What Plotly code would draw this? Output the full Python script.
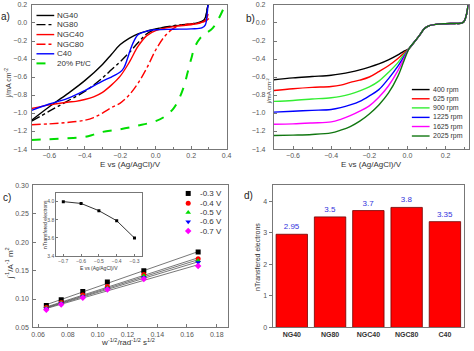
import numpy as np
import plotly.graph_objects as go

W, H = 474, 351

# ---------------- Panel a data ----------------
a_names = ["NG40", "NG80", "NGC40", "NGC80", "C40", "20% Pt/C"]
a_ng40_x = [-0.7, -0.6, -0.5, -0.4, -0.3, -0.25, -0.2, -0.15, -0.1, -0.05, 0.0, 0.1, 0.2, 0.25, 0.27, 0.28, 0.29, 0.295]
a_ng40_y = [-1.08, -0.93, -0.79, -0.64, -0.46, -0.35, -0.24, -0.17, -0.12, -0.09, -0.065, -0.035, -0.01, 0.01, 0.03, 0.06, 0.15, 0.2]
a_ng80_x = [-0.7, -0.6, -0.5, -0.4, -0.3, -0.25, -0.2, -0.15, -0.1, -0.05, 0.0, 0.1, 0.2, 0.27, 0.28, 0.29, 0.295]
a_ng80_y = [-1.09, -0.98, -0.87, -0.76, -0.61, -0.52, -0.43, -0.33, -0.22, -0.12, -0.07, -0.03, -0.01, 0.02, 0.05, 0.15, 0.2]
a_ngc40_x = [-0.7, -0.6, -0.5, -0.45, -0.4, -0.35, -0.3, -0.25, -0.2, -0.15, -0.1, -0.05, 0.0, 0.1, 0.2, 0.25, 0.28, 0.29, 0.295]
a_ngc40_y = [-0.95, -0.91, -0.88, -0.87, -0.85, -0.82, -0.77, -0.69, -0.59, -0.44, -0.26, -0.14, -0.085, -0.04, -0.02, 0.0, 0.03, 0.06, 0.1]
a_ngc80_x = [-0.7, -0.6, -0.5, -0.4, -0.35, -0.3, -0.25, -0.2, -0.15, -0.1, -0.05, 0.0, 0.05, 0.1, 0.15, 0.2, 0.25, 0.28, 0.3]
a_ngc80_y = [-1.13, -1.12, -1.105, -1.08, -1.05, -1.0, -0.94, -0.89, -0.8, -0.67, -0.5, -0.3, -0.15, -0.06, -0.02, -0.01, 0.0, 0.02, 0.05]
a_c40_x = [-0.7, -0.6, -0.5, -0.4, -0.3, -0.25, -0.2, -0.18, -0.16, -0.14, -0.12, -0.1, -0.05, 0.0, 0.1, 0.2, 0.26, 0.28, 0.29, 0.295]
a_c40_y = [-0.97, -0.9, -0.84, -0.75, -0.645, -0.6, -0.545, -0.5, -0.4, -0.28, -0.19, -0.13, -0.09, -0.075, -0.07, -0.065, -0.055, -0.02, 0.1, 0.2]
a_pt_x = [-0.7, -0.6, -0.5, -0.4, -0.35, -0.3, -0.2, -0.1, 0.0, 0.05, 0.1, 0.13, 0.16, 0.18, 0.2, 0.22, 0.25, 0.28, 0.32, 0.35, 0.38, 0.39]
a_pt_y = [-1.3, -1.29, -1.28, -1.265, -1.24, -1.21, -1.18, -1.14, -1.09, -1.04, -0.95, -0.85, -0.7, -0.55, -0.4, -0.27, -0.17, -0.12, -0.06, 0.03, 0.15, 0.2]

# ---------------- Panel b data ----------------
b_names = ["400 rpm", "625 rpm", "900 rpm", "1225 rpm", "1625 rpm", "2025 rpm"]
b_x = [-0.7, -0.6, -0.5, -0.4, -0.35, -0.3, -0.25, -0.2, -0.15, -0.1, -0.05, -0.02, 0.01]
b_400 = [-0.63, -0.61, -0.595, -0.58, -0.565, -0.545, -0.52, -0.49, -0.455, -0.41, -0.355, -0.315, -0.28]
b_625 = [-0.75, -0.73, -0.715, -0.705, -0.69, -0.66, -0.635, -0.6, -0.54, -0.475, -0.395, -0.335, -0.28]
b_900 = [-0.87, -0.86, -0.845, -0.83, -0.815, -0.79, -0.755, -0.71, -0.645, -0.55, -0.44, -0.355, -0.28]
b_1225 = [-0.99, -0.98, -0.97, -0.96, -0.94, -0.91, -0.87, -0.81, -0.74, -0.62, -0.48, -0.38, -0.28]
b_1625 = [-1.125, -1.12, -1.11, -1.098, -1.07, -1.03, -0.98, -0.92, -0.825, -0.7, -0.53, -0.4, -0.28]
b_2025 = [-1.25, -1.245, -1.238, -1.22, -1.19, -1.15, -1.09, -1.01, -0.91, -0.78, -0.59, -0.43, -0.28]
b_tail_x = [0.04, 0.063, 0.09, 0.115, 0.15, 0.2, 0.25, 0.287, 0.3, 0.31, 0.318]
b_tail_y = [-0.2, -0.137, -0.06, -0.03, -0.015, -0.008, -0.005, 0.0, 0.03, 0.1, 0.2]

# ---------------- Panel c data ----------------
c_x = [0.0655, 0.0755, 0.09, 0.1065, 0.131, 0.1675]
c_names = ["-0.3 V", "-0.4 V", "-0.5 V", "-0.6 V", "-0.7 V"]
c_m03 = [0.0887, 0.0986, 0.113, 0.130, 0.1495, 0.1825]
c_m04 = [0.085, 0.094, 0.107, 0.122, 0.143, 0.171]
c_m05 = [0.084, 0.093, 0.105, 0.120, 0.141, 0.1675]
c_m06 = [0.083, 0.092, 0.104, 0.118, 0.138, 0.164]
c_m07 = [0.0813, 0.0905, 0.102, 0.1165, 0.135, 0.158]
inset_E = [-0.7, -0.6, -0.5, -0.4, -0.3]
inset_n = [4.0, 3.98, 3.9, 3.79, 3.6]

# ---------------- Panel d data ----------------
d_cats = ["NG40", "NG80", "NGC40", "NGC80", "C40"]
d_vals = [2.95, 3.5, 3.7, 3.8, 3.35]
d_labels = ["2.95", "3.5", "3.7", "3.8", "3.35"]

FONT = "Liberation Sans"
TICKC = "#555"
LINEC = "#777"

def fx(p):
    return p / W

def fy(p):
    return 1 - p / H

fig = go.Figure()

# panel a
a_colors = ["#000000", "#000000", "#ff0000", "#ff0000", "#0000ff", "#00dd00"]
a_dash = ["solid", "dashdot", "solid", "dashdot", "solid", "dash"]
a_xs = [a_ng40_x, a_ng80_x, a_ngc40_x, a_ngc80_x, a_c40_x, a_pt_x]
a_ys = [a_ng40_y, a_ng80_y, a_ngc40_y, a_ngc80_y, a_c40_y, a_pt_y]
for i in range(6):
    fig.add_trace(go.Scatter(x=a_xs[i], y=a_ys[i], mode="lines", line_shape="spline",
                             line=dict(color=a_colors[i], dash=a_dash[i], width=2 if i == 5 else 1.4),
                             xaxis="x", yaxis="y", showlegend=False))

# panel b
b_colors = ["#000000", "#ff0000", "#33ee33", "#0000ff", "#ff00ff", "#117711"]
b_all = [b_400, b_625, b_900, b_1225, b_1625, b_2025]
for i in range(6):
    fig.add_trace(go.Scatter(x=b_x + b_tail_x, y=b_all[i] + b_tail_y, mode="lines", line_shape="spline",
                             line=dict(color=b_colors[i], width=1.4),
                             xaxis="x2", yaxis="y2", showlegend=False))

# panel c
c_colors = ["#000000", "#ff0000", "#00dd00", "#0000ff", "#ff00ff"]
c_symbols = ["square", "circle", "triangle-up", "triangle-down", "diamond"]
c_all = [c_m03, c_m04, c_m05, c_m06, c_m07]
cx = np.array(c_x)
for i in range(5):
    k, b = np.polyfit(cx, np.array(c_all[i]), 1)
    xl = np.array([c_x[0], c_x[-1]])
    fig.add_trace(go.Scatter(x=xl, y=k * xl + b, mode="lines", line=dict(color="#555", width=0.8),
                             xaxis="x3", yaxis="y3", showlegend=False))
for i in range(5):
    fig.add_trace(go.Scatter(x=c_x, y=c_all[i], mode="markers",
                             marker=dict(symbol=c_symbols[i], color=c_colors[i], size=5),
                             xaxis="x3", yaxis="y3", showlegend=False))
# inset
fig.add_trace(go.Scatter(x=inset_E, y=inset_n, mode="lines+markers",
                         line=dict(color="#000", width=0.8), marker=dict(symbol="square", size=3, color="#000"),
                         xaxis="x4", yaxis="y4", showlegend=False))

# panel d
fig.add_trace(go.Bar(x=d_cats, y=d_vals, text=d_labels, textposition="outside",
                     textfont=dict(color="#3333dd", size=8, family=FONT),
                     marker=dict(color="#ff0000", line=dict(color="#700000", width=0.8)),
                     width=0.82, xaxis="x5", yaxis="y5", showlegend=False, cliponaxis=False))

# legend swatches on a pixel overlay
leg_a_y = [11.7, 21, 31.2, 41, 50.8, 60.6]
for i in range(6):
    fig.add_trace(go.Scatter(x=[35, 53], y=[leg_a_y[i]] * 2, mode="lines",
                             line=dict(color=a_colors[i], dash=a_dash[i], width=2 if i == 5 else 1.4),
                             xaxis="x6", yaxis="y6", showlegend=False))
leg_b_y = [87.3, 96.7, 106, 115.7, 125, 134.7]
for i in range(6):
    fig.add_trace(go.Scatter(x=[416, 434], y=[leg_b_y[i]] * 2, mode="lines",
                             line=dict(color=b_colors[i], width=1.4),
                             xaxis="x6", yaxis="y6", showlegend=False))
leg_c_y = [193.3, 203.3, 212.7, 222.3, 231.7]
for i in range(5):
    fig.add_trace(go.Scatter(x=[189], y=[leg_c_y[i]], mode="markers",
                             marker=dict(symbol=c_symbols[i], color=c_colors[i], size=5),
                             xaxis="x6", yaxis="y6", showlegend=False))

def axstyle(**kw):
    d = dict(showline=True, mirror=True, linecolor=LINEC, linewidth=1, ticks="inside", ticklen=3,
             tickcolor=LINEC, tickfont=dict(size=7, color=TICKC, family=FONT), showgrid=False,
             zeroline=False)
    d.update(kw)
    return d

annos = []
def ann(text, x, y, size=8, color="#333", angle=0, xanchor="center", yanchor="middle", **kw):
    annos.append(dict(text=text, x=fx(x), y=fy(y), xref="paper", yref="paper", showarrow=False,
                      font=dict(size=size, color=color, family=FONT), textangle=angle,
                      xanchor=xanchor, yanchor=yanchor, **kw))

# legends text
for i in range(6):
    ann(a_names[i], 54, leg_a_y[i], size=8, xanchor="left")
for i in range(6):
    ann(b_names[i], 435, leg_b_y[i], size=7, xanchor="left")
for i in range(5):
    ann(c_names[i], 199, leg_c_y[i], size=8, xanchor="left")

# titles
ann("E vs (Ag/AgCl)/V", 130, 164, size=8)
ann("j/mA cm<sup>-2</sup>", 7, 80, size=7, angle=-90)
ann("E vs (Ag/AgCl)/V", 375, 164, size=8)
ann("j/mA cm<sup>-2</sup>", 271, 88, size=6, angle=-90)
ann("w<sup>-1/2</sup>/rad<sup>-1/2</sup> s<sup>1/2</sup>", 128, 345, size=8)
ann("j<sup>-1</sup>/A<sup>-1</sup> m<sup>2</sup>", 7, 265, size=8, angle=-90)
ann("E vs (Ag/AgCl)/V", 98, 269, size=5)
ann("nTransfered electrons", 43, 225, size=5, angle=-90)
ann("nTransfered electrons", 260, 258, size=7, angle=-90)
ann("a)", 4, 13, size=10, color="#222")
ann("b)", 252, 15, size=10, color="#222")
ann("c)", 5, 197, size=10, color="#222")
ann("d)", 250, 195, size=10, color="#222")

fig.update_layout(
    width=W, height=H, margin=dict(l=0, r=0, t=0, b=0),
    paper_bgcolor="white", plot_bgcolor="rgba(0,0,0,0)",
    font=dict(family=FONT),
    showlegend=False,
    xaxis=axstyle(domain=[fx(30), fx(228)], range=[-0.7, 0.4], anchor="y",
                  tickvals=[-0.6, -0.4, -0.2, 0.0, 0.2, 0.4], tickformat=".1f",
                  minor=dict(dtick=0.1, ticks="inside", ticklen=2, tickcolor=LINEC)),
    yaxis=axstyle(domain=[fy(148), fy(1)], range=[-1.4, 0.2], anchor="x", dtick=0.2, tickformat=".1f",
                  ticklabelstandoff=2),
    xaxis2=axstyle(domain=[fx(276), fx(473.5)], range=[-0.7, 0.32], anchor="y2",
                   tickvals=[-0.6, -0.4, -0.2, 0.0, 0.2], tickformat=".1f",
                   minor=dict(dtick=0.1, ticks="inside", ticklen=2, tickcolor=LINEC)),
    yaxis2=axstyle(domain=[fy(148), fy(1)], range=[-1.4, 0.2], anchor="x2", dtick=0.2, tickformat=".1f",
                   ticklabelstandoff=6),
    xaxis3=axstyle(domain=[fx(31.7), fx(229)], range=[0.0567, 0.1873], anchor="y3",
                   tickvals=[0.06, 0.08, 0.10, 0.12, 0.14, 0.16, 0.18], tickformat=".2f"),
    yaxis3=axstyle(domain=[fy(330), fy(185)], range=[0.05, 0.30], anchor="x3", dtick=0.05, tickformat=".2f",
                   ticklabelstandoff=2),
    xaxis4=axstyle(domain=[fx(55), fx(141.7)], range=[-0.74, -0.26], anchor="y4",
                   tickvals=[-0.7, -0.6, -0.5, -0.4, -0.3], tickformat=".1f", ticklen=2,
                   tickfont=dict(size=5, color=TICKC, family=FONT)),
    yaxis4=axstyle(domain=[fy(257.3), fy(193.3)], range=[3.4, 4.09], anchor="x4",
                   tickvals=[3.4, 3.6, 3.8, 4.0], tickformat=".1f", ticklen=2,
                   tickfont=dict(size=5, color=TICKC, family=FONT)),
    xaxis5=axstyle(domain=[fx(274.7), fx(469)], anchor="y5", ticks="",
                   tickfont=dict(size=7, color="#333", family=FONT, weight="bold")),
    yaxis5=axstyle(domain=[fy(330), fy(185)], range=[0, 4.5], anchor="x5", dtick=1, ticks="outside"),
    xaxis6=dict(domain=[0, 1], range=[0, W], visible=False, showticklabels=False, anchor="y6"),
    yaxis6=dict(domain=[0, 1], range=[H, 0], visible=False, showticklabels=False, anchor="x6"),
    annotations=annos,
)

fig.write_html("out.html")
